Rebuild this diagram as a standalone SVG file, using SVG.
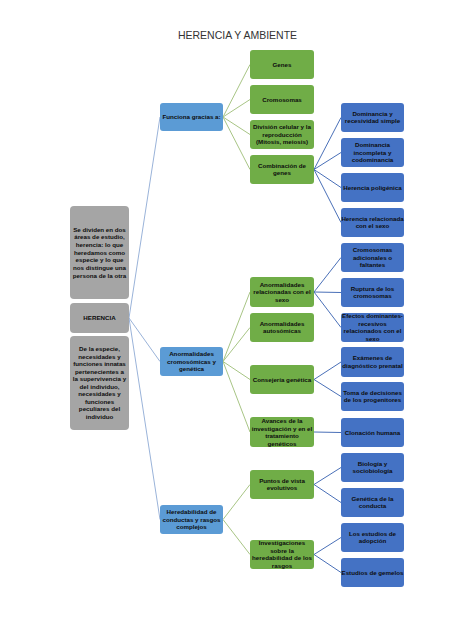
<svg xmlns="http://www.w3.org/2000/svg" width="474" height="632" viewBox="0 0 474 632">
<style>
.t{font-family:"Liberation Sans",Arial,sans-serif;font-size:6.2px;font-weight:bold;fill:#0d0d0d;text-anchor:middle}
.title{font-family:"Liberation Sans",Arial,sans-serif;font-size:10.5px;fill:#333;text-anchor:middle}
.gray{fill:#a5a5a5}
.mid{fill:#5b9bd5}
.grn{fill:#70ad47}
.blu{fill:#4472c4}
.c1{stroke:#9ab3d9;stroke-width:1;fill:none}
.c2{stroke:#a8c585;stroke-width:1;fill:none}
.c3{stroke:#4a70b8;stroke-width:1;fill:none}
</style>
<rect width="474" height="632" fill="#fff"/>
<text class="title" x="237.5" y="38.5">HERENCIA Y AMBIENTE</text>

<g id="connectors">
<line class="c1" x1="129" y1="318" x2="160" y2="117"/>
<line class="c1" x1="129" y1="318" x2="160" y2="361.5"/>
<line class="c1" x1="129" y1="318" x2="160" y2="519.5"/>
<line class="c2" x1="223" y1="117" x2="250" y2="64.5"/>
<line class="c2" x1="223" y1="117" x2="250" y2="99.5"/>
<line class="c2" x1="223" y1="117" x2="250" y2="134.5"/>
<line class="c2" x1="223" y1="117" x2="250" y2="169.5"/>
<line class="c2" x1="223" y1="361.5" x2="250" y2="292"/>
<line class="c2" x1="223" y1="361.5" x2="250" y2="327.5"/>
<line class="c2" x1="223" y1="361.5" x2="250" y2="379.5"/>
<line class="c2" x1="223" y1="361.5" x2="250" y2="432"/>
<line class="c2" x1="223" y1="519.5" x2="250" y2="484.5"/>
<line class="c2" x1="223" y1="519.5" x2="250" y2="554.5"/>
<line class="c3" x1="314" y1="169.5" x2="341" y2="117.5"/>
<line class="c3" x1="314" y1="169.5" x2="341" y2="152.5"/>
<line class="c3" x1="314" y1="169.5" x2="341" y2="187.5"/>
<line class="c3" x1="314" y1="169.5" x2="341" y2="222.5"/>
<line class="c3" x1="314" y1="292" x2="341" y2="257.5"/>
<line class="c3" x1="314" y1="292" x2="341" y2="292.5"/>
<line class="c3" x1="314" y1="292" x2="341" y2="327.5"/>
<line class="c3" x1="314" y1="379.5" x2="341" y2="362"/>
<line class="c3" x1="314" y1="379.5" x2="341" y2="396.5"/>
<line class="c3" x1="314" y1="432" x2="341" y2="432.5"/>
<line class="c3" x1="314" y1="484.5" x2="341" y2="467.5"/>
<line class="c3" x1="314" y1="484.5" x2="341" y2="502.5"/>
<line class="c3" x1="314" y1="554.5" x2="341" y2="537.5"/>
<line class="c3" x1="314" y1="554.5" x2="341" y2="572.5"/>
</g>

<g id="n-areas"><rect class="gray" x="70" y="206" width="59" height="93" rx="4"/>
<text class="t" x="99.5" y="231.6"><tspan x="99.5">Se dividen en dos</tspan><tspan x="99.5" dy="7.7">áreas de estudio,</tspan><tspan x="99.5" dy="7.7">herencia: lo que</tspan><tspan x="99.5" dy="7.7">heredamos como</tspan><tspan x="99.5" dy="7.7">especie y lo que</tspan><tspan x="99.5" dy="7.7">nos distingue una</tspan><tspan x="99.5" dy="7.7">persona de la otra</tspan></text></g>
<g id="n-herencia"><rect class="gray" x="70" y="303" width="59" height="30" rx="4"/>
<text class="t" x="99.5" y="320.2">HERENCIA</text></g>
<g id="n-especie"><rect class="gray" x="70" y="336" width="59" height="94" rx="4"/>
<text class="t" x="99.5" y="351.4"><tspan x="99.5">De la especie,</tspan><tspan x="99.5" dy="7.5">necesidades y</tspan><tspan x="99.5" dy="7.5">funciones innatas</tspan><tspan x="99.5" dy="7.5">pertenecientes a</tspan><tspan x="99.5" dy="7.5">la supervivencia y</tspan><tspan x="99.5" dy="7.5">del individuo,</tspan><tspan x="99.5" dy="7.5">necesidades y</tspan><tspan x="99.5" dy="7.5">funciones</tspan><tspan x="99.5" dy="7.5">peculiares del</tspan><tspan x="99.5" dy="7.5">individuo</tspan></text></g>

<g id="n-funciona"><rect class="mid" x="160" y="103" width="63" height="28" rx="3"/>
<text class="t" x="191.5" y="119.2">Funciona gracias a:</text></g>
<g id="n-anormalidades"><rect class="mid" x="160" y="347" width="63" height="29" rx="3"/>
<text class="t" x="191.5" y="356.2"><tspan x="191.5">Anormalidades</tspan><tspan x="191.5" dy="7.5">cromosómicas y</tspan><tspan x="191.5" dy="7.5">genética</tspan></text></g>
<g id="n-heredabilidad"><rect class="mid" x="160" y="505" width="63" height="29" rx="3"/>
<text class="t" x="191.5" y="514.2"><tspan x="191.5">Heredabilidad de</tspan><tspan x="191.5" dy="7.5">conductas y rasgos</tspan><tspan x="191.5" dy="7.5">complejos</tspan></text></g>

<g id="n-genes"><rect class="grn" x="250" y="50" width="64" height="29" rx="3"/>
<text class="t" x="282" y="66.7">Genes</text></g>
<g id="n-cromosomas"><rect class="grn" x="250" y="85" width="64" height="29" rx="3"/>
<text class="t" x="282" y="101.7">Cromosomas</text></g>
<g id="n-division"><rect class="grn" x="250" y="120" width="64" height="29" rx="3"/>
<text class="t" x="282" y="129.2"><tspan x="282">División celular y la</tspan><tspan x="282" dy="7.5">reproducción</tspan><tspan x="282" dy="7.5">(Mitosis, meiosis)</tspan></text></g>
<g id="n-combinacion"><rect class="grn" x="250" y="155" width="64" height="29" rx="3"/>
<text class="t" x="282" y="167.9"><tspan x="282">Combinación de</tspan><tspan x="282" dy="7.5">genes</tspan></text></g>
<g id="n-anorm-sexo"><rect class="grn" x="250" y="277" width="64" height="30" rx="3"/>
<text class="t" x="282" y="286.7"><tspan x="282">Anormalidades</tspan><tspan x="282" dy="7.5">relacionadas con el</tspan><tspan x="282" dy="7.5">sexo</tspan></text></g>
<g id="n-autosomicas"><rect class="grn" x="250" y="313" width="64" height="29" rx="3"/>
<text class="t" x="282" y="325.9"><tspan x="282">Anormalidades</tspan><tspan x="282" dy="7.5">autosómicas</tspan></text></g>
<g id="n-consejeria"><rect class="grn" x="250" y="365" width="64" height="29" rx="3"/>
<text class="t" x="282" y="381.7">Consejería genética</text></g>
<g id="n-avances"><rect class="grn" x="250" y="417" width="64" height="30" rx="3"/>
<text class="t" x="282" y="423"><tspan x="282">Avances de la</tspan><tspan x="282" dy="7.5">investigación y en el</tspan><tspan x="282" dy="7.5">tratamiento</tspan><tspan x="282" dy="7.5">genéticos</tspan></text></g>
<g id="n-puntos"><rect class="grn" x="250" y="470" width="64" height="29" rx="3"/>
<text class="t" x="282" y="482.9"><tspan x="282">Puntos de vista</tspan><tspan x="282" dy="7.5">evolutivos</tspan></text></g>
<g id="n-investigaciones"><rect class="grn" x="250" y="540" width="64" height="29" rx="3"/>
<text class="t" x="282" y="545.4"><tspan x="282">Investigaciones</tspan><tspan x="282" dy="7.5">sobre la</tspan><tspan x="282" dy="7.5">heredabilidad de los</tspan><tspan x="282" dy="7.5">rasgos</tspan></text></g>

<g id="n-dom-simple"><rect class="blu" x="341" y="103" width="63" height="29" rx="3"/>
<text class="t" x="372.5" y="115.9"><tspan x="372.5">Dominancia y</tspan><tspan x="372.5" dy="7.5">recesividad simple</tspan></text></g>
<g id="n-dom-incompleta"><rect class="blu" x="341" y="138" width="63" height="29" rx="3"/>
<text class="t" x="372.5" y="147.2"><tspan x="372.5">Dominancia</tspan><tspan x="372.5" dy="7.5">incompleta y</tspan><tspan x="372.5" dy="7.5">codominancia</tspan></text></g>
<g id="n-poligenica"><rect class="blu" x="341" y="173" width="63" height="29" rx="3"/>
<text class="t" x="372.5" y="189.7">Herencia poligénica</text></g>
<g id="n-rel-sexo"><rect class="blu" x="341" y="208" width="63" height="29" rx="3"/>
<text class="t" x="372.5" y="220.9"><tspan x="372.5">Herencia relacionada</tspan><tspan x="372.5" dy="7.5">con el sexo</tspan></text></g>
<g id="n-adicionales"><rect class="blu" x="341" y="243" width="63" height="29" rx="3"/>
<text class="t" x="372.5" y="252.2"><tspan x="372.5">Cromosomas</tspan><tspan x="372.5" dy="7.5">adicionales o</tspan><tspan x="372.5" dy="7.5">faltantes</tspan></text></g>
<g id="n-ruptura"><rect class="blu" x="341" y="278" width="63" height="29" rx="3"/>
<text class="t" x="372.5" y="290.9"><tspan x="372.5">Ruptura de los</tspan><tspan x="372.5" dy="7.5">cromosomas</tspan></text></g>
<g id="n-efectos"><rect class="blu" x="341" y="313" width="63" height="29" rx="3"/>
<text class="t" x="372.5" y="318.4"><tspan x="372.5">Efectos dominantes-</tspan><tspan x="372.5" dy="7.5">recesivos</tspan><tspan x="372.5" dy="7.5">relacionados con el</tspan><tspan x="372.5" dy="7.5">sexo</tspan></text></g>
<g id="n-examenes"><rect class="blu" x="341" y="347" width="63" height="30" rx="3"/>
<text class="t" x="372.5" y="360.4"><tspan x="372.5">Exámenes de</tspan><tspan x="372.5" dy="7.5">diagnóstico prenatal</tspan></text></g>
<g id="n-toma"><rect class="blu" x="341" y="382" width="63" height="29" rx="3"/>
<text class="t" x="372.5" y="394.9"><tspan x="372.5">Toma de decisiones</tspan><tspan x="372.5" dy="7.5">de los progenitores</tspan></text></g>
<g id="n-clonacion"><rect class="blu" x="341" y="418" width="63" height="29" rx="3"/>
<text class="t" x="372.5" y="434.7">Clonación humana</text></g>
<g id="n-biologia"><rect class="blu" x="341" y="453" width="63" height="29" rx="3"/>
<text class="t" x="372.5" y="465.9"><tspan x="372.5">Biología y</tspan><tspan x="372.5" dy="7.5">sociobiología</tspan></text></g>
<g id="n-genetica-conducta"><rect class="blu" x="341" y="488" width="63" height="29" rx="3"/>
<text class="t" x="372.5" y="500.9"><tspan x="372.5">Genética de la</tspan><tspan x="372.5" dy="7.5">conducta</tspan></text></g>
<g id="n-adopcion"><rect class="blu" x="341" y="523" width="63" height="29" rx="3"/>
<text class="t" x="372.5" y="535.9"><tspan x="372.5">Los estudios de</tspan><tspan x="372.5" dy="7.5">adopción</tspan></text></g>
<g id="n-gemelos"><rect class="blu" x="341" y="558" width="63" height="29" rx="3"/>
<text class="t" x="372.5" y="574.7">Estudios de gemelos</text></g>
</svg>
